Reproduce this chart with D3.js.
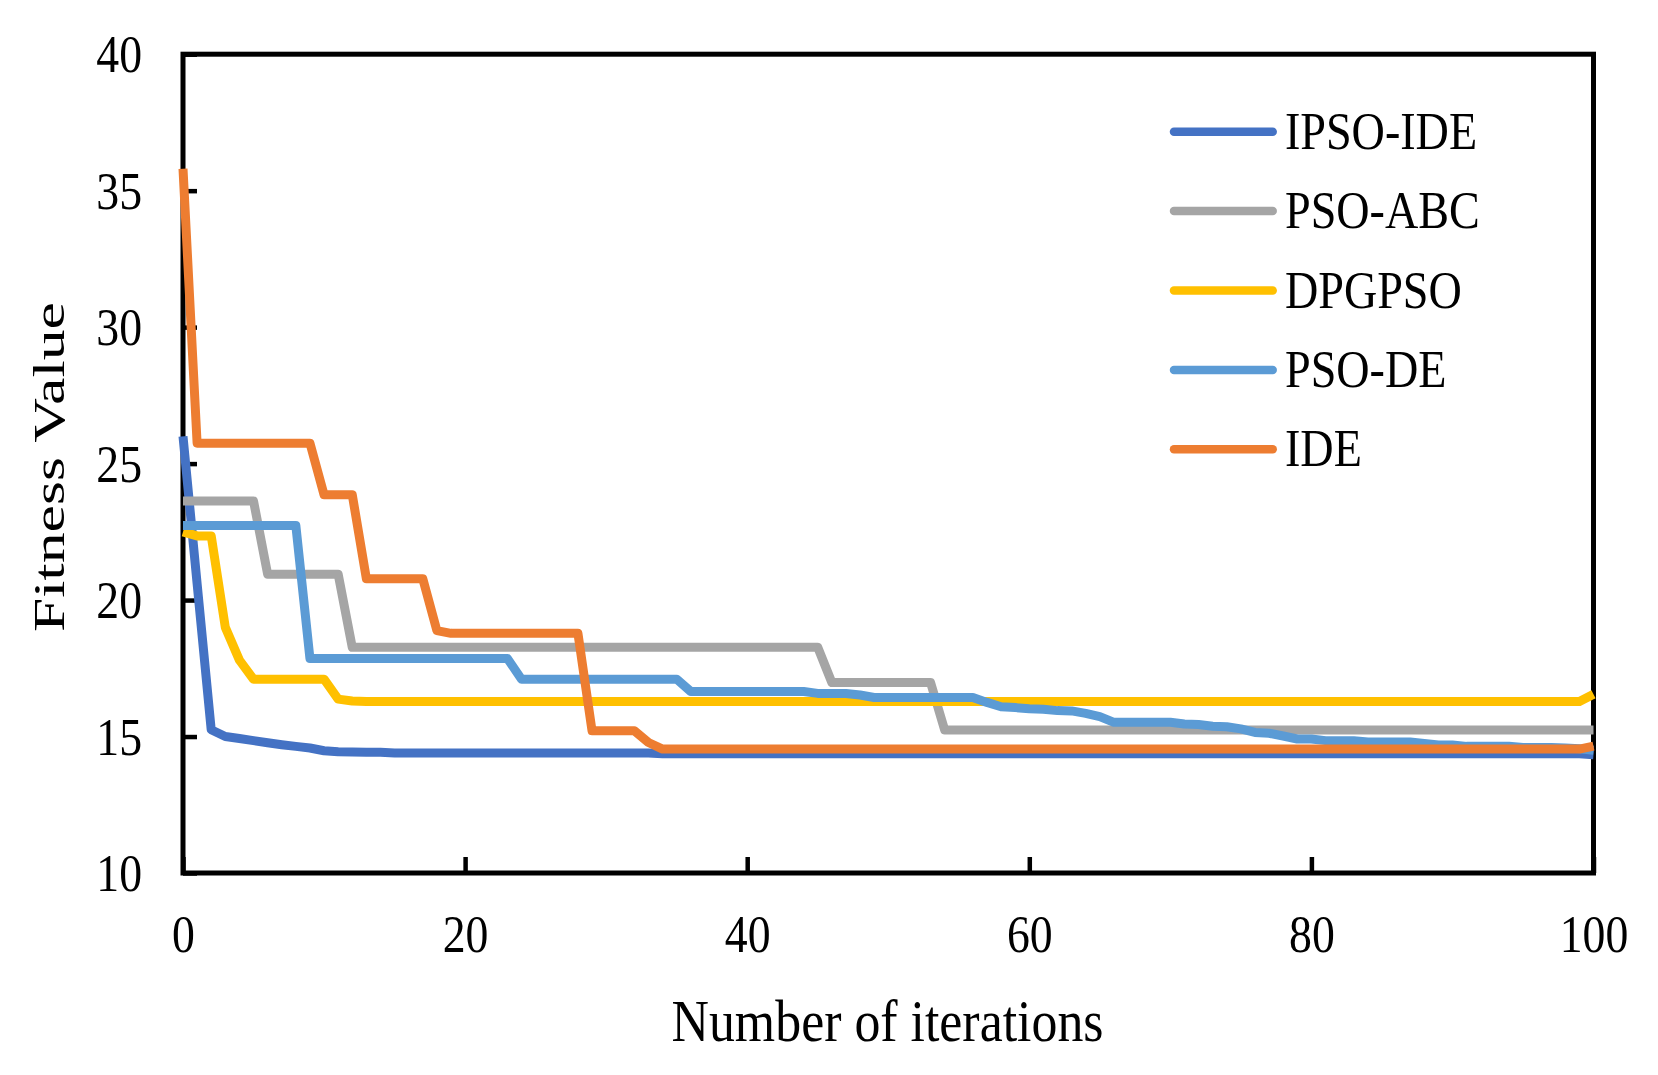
<!DOCTYPE html>
<html>
<head>
<meta charset="utf-8">
<script src="https://cdn.jsdelivr.net/npm/d3@7"></script>
<style>
  body { margin: 0; background: #fff; }
  svg { display: block; font-family: "Liberation Serif", "Times New Roman", serif; }
</style>
</head>
<body>
<svg width="1658" height="1075"></svg>
<script>
// fitness value per iteration (0..100)
var iterations = d3.range(0, 101);

var ipsoIde = [
  26.0, 20.6, 15.25, 15.0, 14.93, 14.85, 14.77, 14.7, 14.64, 14.58,
  14.48, 14.44, 14.43, 14.42, 14.42, 14.4, 14.4, 14.4, 14.4, 14.4,
  14.4, 14.4, 14.4, 14.4, 14.4, 14.4, 14.4, 14.4, 14.4, 14.4,
  14.4, 14.4, 14.4, 14.4, 14.37, 14.37, 14.37, 14.37, 14.37, 14.37,
  14.37, 14.37, 14.37, 14.37, 14.37, 14.37, 14.37, 14.37, 14.37, 14.37,
  14.37, 14.37, 14.37, 14.37, 14.37, 14.37, 14.37, 14.37, 14.37, 14.37,
  14.37, 14.37, 14.37, 14.37, 14.37, 14.37, 14.37, 14.37, 14.37, 14.37,
  14.37, 14.37, 14.37, 14.37, 14.37, 14.37, 14.37, 14.37, 14.37, 14.37,
  14.37, 14.37, 14.37, 14.37, 14.37, 14.37, 14.37, 14.37, 14.37, 14.37,
  14.37, 14.37, 14.37, 14.37, 14.37, 14.37, 14.37, 14.37, 14.37, 14.37,
  14.33
];

var psoAbc = [
  23.63, 23.63, 23.63, 23.63, 23.63, 23.63, 20.95, 20.95, 20.95, 20.95,
  20.95, 20.95, 18.27, 18.27, 18.27, 18.27, 18.27, 18.27, 18.27, 18.27,
  18.27, 18.27, 18.27, 18.27, 18.27, 18.27, 18.27, 18.27, 18.27, 18.27,
  18.27, 18.27, 18.27, 18.27, 18.27, 18.27, 18.27, 18.27, 18.27, 18.27,
  18.27, 18.27, 18.27, 18.27, 18.27, 18.27, 16.98, 16.98, 16.98, 16.98,
  16.98, 16.98, 16.98, 16.98, 15.24, 15.24, 15.24, 15.24, 15.24, 15.24,
  15.24, 15.24, 15.24, 15.24, 15.24, 15.24, 15.24, 15.24, 15.24, 15.24,
  15.24, 15.24, 15.24, 15.24, 15.24, 15.24, 15.24, 15.24, 15.24, 15.24,
  15.24, 15.24, 15.24, 15.24, 15.24, 15.24, 15.24, 15.24, 15.24, 15.24,
  15.24, 15.24, 15.24, 15.24, 15.24, 15.24, 15.24, 15.24, 15.24, 15.24,
  15.24
];

var dpgpso = [
  22.5, 22.35, 22.35, 19.0, 17.8, 17.1, 17.1, 17.1, 17.1, 17.1,
  17.1, 16.37, 16.3, 16.28, 16.28, 16.28, 16.28, 16.28, 16.28, 16.28,
  16.28, 16.28, 16.28, 16.28, 16.28, 16.28, 16.28, 16.28, 16.28, 16.28,
  16.28, 16.28, 16.28, 16.28, 16.28, 16.28, 16.28, 16.28, 16.28, 16.28,
  16.28, 16.28, 16.28, 16.28, 16.28, 16.28, 16.28, 16.28, 16.28, 16.28,
  16.28, 16.28, 16.28, 16.28, 16.28, 16.28, 16.28, 16.28, 16.28, 16.28,
  16.28, 16.28, 16.28, 16.28, 16.28, 16.28, 16.28, 16.28, 16.28, 16.28,
  16.28, 16.28, 16.28, 16.28, 16.28, 16.28, 16.28, 16.28, 16.28, 16.28,
  16.28, 16.28, 16.28, 16.28, 16.28, 16.28, 16.28, 16.28, 16.28, 16.28,
  16.28, 16.28, 16.28, 16.28, 16.28, 16.28, 16.28, 16.28, 16.28, 16.28,
  16.55
];

var psoDe = [
  22.73, 22.73, 22.73, 22.73, 22.73, 22.73, 22.73, 22.73, 22.73, 17.86,
  17.86, 17.86, 17.86, 17.86, 17.86, 17.86, 17.86, 17.86, 17.86, 17.86,
  17.86, 17.86, 17.86, 17.86, 17.1, 17.1, 17.1, 17.1, 17.1, 17.1,
  17.1, 17.1, 17.1, 17.1, 17.1, 17.1, 16.65, 16.65, 16.65, 16.65,
  16.65, 16.65, 16.65, 16.65, 16.65, 16.58, 16.58, 16.58, 16.52, 16.43,
  16.43, 16.43, 16.43, 16.43, 16.43, 16.43, 16.43, 16.25, 16.09, 16.06,
  16.02, 16.0, 15.95, 15.94, 15.85, 15.73, 15.52, 15.52, 15.52, 15.52,
  15.52, 15.46, 15.44, 15.38, 15.36, 15.28, 15.15, 15.12, 15.02, 14.91,
  14.91, 14.85, 14.85, 14.85, 14.8, 14.8, 14.8, 14.8, 14.75, 14.69,
  14.69, 14.64, 14.64, 14.64, 14.64, 14.6, 14.6, 14.6, 14.58, 14.55,
  14.5
];

var ide = [
  35.8, 25.75, 25.75, 25.75, 25.75, 25.75, 25.75, 25.75, 25.75, 25.75,
  23.86, 23.86, 23.86, 20.78, 20.78, 20.78, 20.78, 20.78, 18.88, 18.78,
  18.78, 18.78, 18.78, 18.78, 18.78, 18.78, 18.78, 18.78, 18.78, 15.21,
  15.21, 15.21, 15.21, 14.78, 14.54, 14.54, 14.54, 14.54, 14.54, 14.54,
  14.54, 14.54, 14.54, 14.54, 14.54, 14.54, 14.54, 14.54, 14.54, 14.54,
  14.54, 14.54, 14.54, 14.54, 14.54, 14.54, 14.54, 14.54, 14.54, 14.54,
  14.54, 14.54, 14.54, 14.54, 14.54, 14.54, 14.54, 14.54, 14.54, 14.54,
  14.54, 14.54, 14.54, 14.54, 14.54, 14.54, 14.54, 14.54, 14.54, 14.54,
  14.54, 14.54, 14.54, 14.54, 14.54, 14.54, 14.54, 14.54, 14.54, 14.54,
  14.54, 14.54, 14.54, 14.54, 14.54, 14.54, 14.54, 14.54, 14.54, 14.54,
  14.65
];

var seriesNames = ['IPSO-IDE', 'PSO-ABC', 'DPGPSO', 'PSO-DE', 'IDE'];
var seriesValues = [ipsoIde, psoAbc, dpgpso, psoDe, ide];
var seriesColors = ['#4472C4', '#A5A5A5', '#FFC000', '#5B9BD5', '#ED7D31'];
var xTicks = [0, 20, 40, 60, 80, 100];
var yTicks = [10, 15, 20, 25, 30, 35, 40];

var svg = d3.select('svg');
var plot = {left: 183, right: 1593.5, top: 54.2, bottom: 873};

var x = d3.scaleLinear().domain([0, 100]).range([plot.left, plot.right]);
var y = d3.scaleLinear().domain([10, 40]).range([plot.bottom, plot.top]);

svg.append('rect')
    .attr('width', 1658).attr('height', 1075)
    .attr('fill', '#fff');

// axes with inward ticks
var xAxisG = svg.append('g')
    .attr('transform', 'translate(0,' + plot.bottom + ')')
    .call(d3.axisBottom(x).tickValues(xTicks).tickSizeInner(-16).tickSizeOuter(0));
var yAxisG = svg.append('g')
    .attr('transform', 'translate(' + plot.left + ',0)')
    .call(d3.axisLeft(y).tickValues(yTicks).tickSizeInner(-14).tickSizeOuter(0));

[xAxisG, yAxisG].forEach(function(g) {
    g.select('.domain').remove();
    g.selectAll('line').attr('stroke', '#000').attr('stroke-width', 4.5);
    g.attr('font-family', null).attr('font-size', null);
});

xAxisG.selectAll('text')
    .attr('y', 78.7).attr('dy', null)
    .attr('font-size', 52)
    .attr('fill', '#000')
    .attr('transform', 'scale(0.88,1)');

yAxisG.selectAll('text')
    .attr('x', -41 / 0.88).attr('y', 17.5).attr('dy', null)
    .attr('font-size', 52)
    .attr('fill', '#000')
    .attr('transform', 'scale(0.88,1)');

// frame
svg.append('rect')
    .attr('x', plot.left).attr('y', plot.top)
    .attr('width', plot.right - plot.left)
    .attr('height', plot.bottom - plot.top)
    .attr('fill', 'none')
    .attr('stroke', '#000')
    .attr('stroke-width', 5);

// series lines
var line = d3.line()
    .x(function(d, i) { return x(iterations[i]); })
    .y(function(d) { return y(d); });

svg.append('g').attr('class', 'lines')
    .selectAll('path')
    .data(seriesValues)
    .enter()
    .append('path')
    .attr('d', line)
    .attr('fill', 'none')
    .attr('stroke', function(d, i) { return seriesColors[i]; })
    .attr('stroke-width', 9)
    .attr('stroke-linejoin', 'round');

// legend
var legend = svg.append('g').attr('class', 'legend');
var legendRow = legend.selectAll('g')
    .data(seriesNames)
    .enter()
    .append('g')
    .attr('transform', function(d, i) { return 'translate(0,' + (131.7 + i * 79.4) + ')'; });

legendRow.append('line')
    .attr('x1', 1174).attr('x2', 1272.7)
    .attr('stroke', function(d, i) { return seriesColors[i]; })
    .attr('stroke-width', 8.5)
    .attr('stroke-linecap', 'round');

legendRow.append('text')
    .attr('transform', 'translate(1285,17) scale(0.87,1)')
    .attr('font-size', 53)
    .attr('fill', '#000')
    .text(function(d) { return d; });

// axis titles
svg.append('text')
    .attr('x', 887.5).attr('y', 1040.7)
    .attr('text-anchor', 'middle')
    .attr('font-size', 59)
    .attr('textLength', 432)
    .attr('lengthAdjust', 'spacingAndGlyphs')
    .text('Number of iterations');

svg.append('text')
    .attr('transform', 'translate(64,467) rotate(-90)')
    .attr('text-anchor', 'middle')
    .attr('font-size', 45)
    .attr('textLength', 330)
    .attr('lengthAdjust', 'spacingAndGlyphs')
    .text('Fitness Value');
</script>
</body>
</html>
